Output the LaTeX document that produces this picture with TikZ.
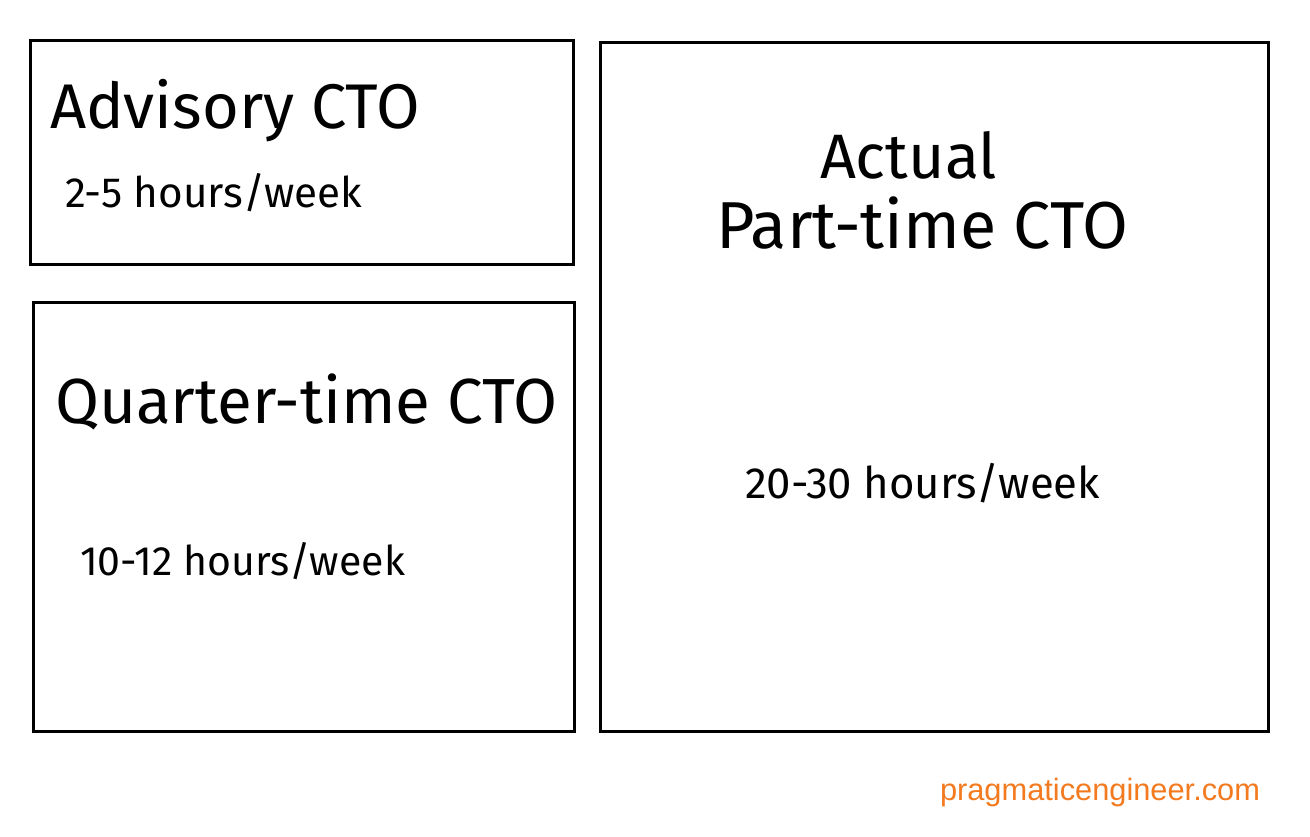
\documentclass[tikz,border=0pt]{standalone}
\usepackage{fontspec}
\setmainfont{Fira Sans}
\newfontfamily\urlfont{Liberation Sans}
\definecolor{urlorange}{HTML}{F47A1F}
\begin{document}
\begin{tikzpicture}[x=1pt,y=-1pt,
  box/.style={draw=black,line width=3pt},
  lbl/.style={anchor=base west,inner sep=0pt,outer sep=0pt}]
\useasboundingbox (0,0) rectangle (1310,836);
\fill[white] (0,0) rectangle (1310,836);
\draw[box] (30,40) rectangle (573,264);
\draw[box] (33,302) rectangle (574,731);
\draw[box] (600,42) rectangle (1268,731);
\node[lbl] (adv) at (50,128) {\resizebox{370pt}{!}{Advisory CTO}};
\node[lbl] (advh) at (65,207) {\resizebox{297pt}{!}{2-5 hours/week}};
\node[lbl] (qt) at (55,423) {\resizebox{502pt}{!}{Quarter-time CTO}};
\node[lbl] (qth) at (80,575) {\resizebox{325pt}{!}{10-12 hours/week}};
\node[lbl] (act) at (820,178) {\resizebox{177pt}{!}{Actual}};
\node[lbl] (pt) at (716,248) {\resizebox{412pt}{!}{Part-time CTO}};
\node[lbl] (pth) at (745,498) {\resizebox{355pt}{!}{20-30 hours/week}};
\node[lbl,text=urlorange] (url) at (940,800) {\resizebox{320pt}{!}{\urlfont pragmaticengineer.com}};
\end{tikzpicture}
\end{document}
